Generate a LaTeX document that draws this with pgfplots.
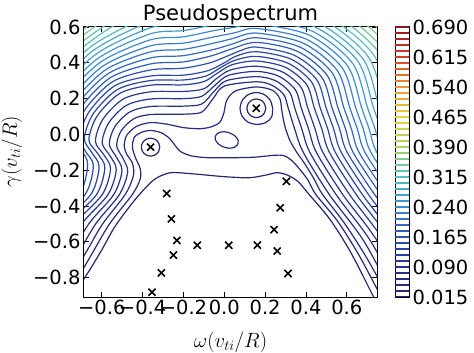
\documentclass[border=0pt]{standalone}
\usepackage{fontspec}
\setmainfont{DejaVu Sans}
\usepackage{pgfplots}
\pgfplotsset{compat=1.18}
\definecolor{K0}{RGB}{38,38,115}
\definecolor{K1}{RGB}{40,50,140}
\definecolor{K2}{RGB}{45,80,175}
\definecolor{K3}{RGB}{60,140,210}
\definecolor{K4}{RGB}{85,192,190}
\definecolor{K5}{RGB}{170,210,100}
\colorlet{L1}{K0}\colorlet{L2}{K1!20!K0}\colorlet{L3}{K1!40!K0}\colorlet{L4}{K1!60!K0}
\colorlet{L5}{K1!80!K0}\colorlet{L6}{K1}\colorlet{L7}{K2!20!K1}\colorlet{L8}{K2!40!K1}
\colorlet{L9}{K2!60!K1}\colorlet{L10}{K2!80!K1}\colorlet{L11}{K2}\colorlet{L12}{K3!20!K2}
\colorlet{L13}{K3!40!K2}\colorlet{L14}{K3!60!K2}\colorlet{L15}{K3!80!K2}\colorlet{L16}{K3}
\colorlet{L17}{K4!20!K3}\colorlet{L18}{K4!40!K3}\colorlet{L19}{K4!60!K3}\colorlet{L20}{K4!80!K3}
\colorlet{L21}{K4}\colorlet{L22}{K5!20!K4}\colorlet{L23}{K5!40!K4}\colorlet{L24}{K5!60!K4}
\colorlet{L25}{K5!80!K4}
\pgfplotsset{colormap={pseudo}{rgb255=(38,38,115) rgb255=(40,50,140) rgb255=(45,80,175) rgb255=(60,140,210) rgb255=(85,192,190) rgb255=(170,210,100) rgb255=(228,212,60) rgb255=(235,150,50) rgb255=(215,60,45) rgb255=(140,25,25)}}
\newcommand{\fsz}{\fontsize{19.5bp}{23bp}\selectfont}
\begin{document}
\begin{tikzpicture}
\useasboundingbox (-84bp,-56bp) rectangle (390bp,297bp);
\begin{axis}[
  at={(0,0)}, anchor=south west,
  width=293bp, height=270bp, scale only axis,
  xmin=-0.687, xmax=0.748, ymin=-0.908, ymax=0.6,
  xtick={-0.6,-0.4,-0.2,0,0.2,0.4,0.6},
  xticklabels={−0.6,−0.4,−0.2,0.0,0.2,0.4,0.6},
  ytick={-0.8,-0.6,-0.4,-0.2,0,0.2,0.4,0.6},
  yticklabels={−0.8,−0.6,−0.4,−0.2,0.0,0.2,0.4,0.6},
  tick align=inside, major tick length=5bp,
  tick label style={font=\fsz},
  every tick/.style={black, line width=0.8bp},
  axis line style={line width=1bp},
  title={Pseudospectrum},
  title style={font=\fontsize{21bp}{25bp}\selectfont, at={(axis description cs:0.5,1)}, anchor=base, yshift=1bp},
  xlabel={$\omega(v_{ti}/R)$},
  xlabel style={font=\fontsize{20bp}{24bp}\selectfont, at={(axis description cs:0.5,0)}, anchor=base, yshift=-50bp},
  ylabel={$\gamma(v_{ti}/R)$},
  ylabel style={font=\fontsize{20bp}{24bp}\selectfont, at={(axis description cs:-0.229,0.538)}, anchor=base},
  clip marker paths=true,
  every axis plot/.append style={line width=1.2bp, smooth},
]
% level 1
\addplot[draw=L1] coordinates {(-0.76,-0.93) (-0.673,-0.782) (-0.60,-0.645) (-0.534,-0.512) (-0.436,-0.363) (-0.354,-0.262) (-0.30,-0.226) (-0.25,-0.213) (-0.135,-0.222) (0.0,-0.236) (0.12,-0.242) (0.2,-0.228) (0.257,-0.214) (0.305,-0.225) (0.36,-0.262) (0.415,-0.335) (0.518,-0.475) (0.62,-0.66) (0.73,-0.905) (0.755,-0.96)};
\addplot[draw=L1] coordinates {(-0.316,-0.071) (-0.322,-0.046) (-0.3385,-0.0277) (-0.361,-0.021) (-0.3835,-0.0277) (-0.400,-0.046) (-0.406,-0.071) (-0.400,-0.096) (-0.3835,-0.1143) (-0.361,-0.121) (-0.3385,-0.1143) (-0.322,-0.096) (-0.316,-0.071)};
\addplot[draw=L1] coordinates {(0.203,0.146) (0.1968,0.172) (0.180,0.191) (0.157,0.198) (0.134,0.191) (0.1172,0.172) (0.111,0.146) (0.1172,0.120) (0.134,0.101) (0.157,0.094) (0.180,0.101) (0.1968,0.120) (0.203,0.146)};
% level 2
\addplot[draw=L2] coordinates {(0.237,0.145) (0.226,0.1895) (0.197,0.222) (0.157,0.234) (0.117,0.222) (0.0877,0.1895) (0.077,0.145) (0.0877,0.1005) (0.117,0.068) (0.16,0.056) (0.203,0.066) (0.232,0.097) (0.237,0.145)};
\addplot[draw=L2] coordinates {(-0.84,-1.04) (-0.665,-0.70) (-0.562,-0.5) (-0.45,-0.335) (-0.412,-0.25) (-0.412,-0.19) (-0.435,-0.13) (-0.45,-0.07) (-0.44,-0.015) (-0.405,0.012) (-0.36,0.022) (-0.31,0.01) (-0.27,-0.02) (-0.245,-0.055) (-0.215,-0.095) (-0.16,-0.12) (-0.08,-0.13) (0.05,-0.13) (0.15,-0.127) (0.24,-0.117) (0.29,-0.118) (0.33,-0.145) (0.37,-0.195) (0.41,-0.255) (0.448,-0.335) (0.552,-0.48) (0.655,-0.665) (0.765,-0.90) (0.79,-0.96)};
% level 3
\addplot[draw=L3] coordinates {(0.066,-0.056) (0.068,-0.034) (0.055,-0.011) (0.030,0.007) (0.0,0.015) (-0.026,0.010) (-0.042,-0.006) (-0.044,-0.028) (-0.031,-0.051) (-0.006,-0.069) (0.024,-0.077) (0.050,-0.072) (0.066,-0.056)};
\addplot[draw=L3] coordinates {(-0.88,-1.05) (-0.678,-0.66) (-0.596,-0.5) (-0.485,-0.335) (-0.445,-0.23) (-0.45,-0.16) (-0.478,-0.11) (-0.49,-0.065) (-0.478,-0.005) (-0.43,0.045) (-0.36,0.066) (-0.28,0.057) (-0.2,0.038) (-0.12,0.032) (-0.065,0.042) (-0.022,0.068) (-0.002,0.12) (0.012,0.19) (0.055,0.243) (0.157,0.265) (0.235,0.247) (0.272,0.2) (0.283,0.125) (0.297,0.045) (0.322,-0.035) (0.355,-0.1) (0.395,-0.165) (0.44,-0.25) (0.481,-0.335) (0.585,-0.49) (0.69,-0.675) (0.80,-0.90) (0.825,-0.97)};
% level 4
\addplot[draw=L4] coordinates {(-0.893,-1.0) (-0.733,-0.7) (-0.63,-0.5) (-0.513,-0.335) (-0.473,-0.209) (-0.495,-0.136) (-0.527,-0.063) (-0.505,0.020) (-0.444,0.087) (-0.361,0.111) (-0.2,0.113) (-0.11,0.125) (-0.055,0.20) (0.0,0.27) (0.157,0.294) (0.235,0.274) (0.292,0.221) (0.313,0.148) (0.345,0.03) (0.387,-0.1) (0.514,-0.335) (0.686,-0.6) (0.854,-0.96)};
% level 5
\addplot[draw=L5] coordinates {(-0.927,-1.0) (-0.767,-0.7) (-0.664,-0.5) (-0.541,-0.335) (-0.501,-0.203) (-0.527,-0.129) (-0.563,-0.055) (-0.536,0.043) (-0.462,0.126) (-0.361,0.156) (-0.2,0.158) (-0.11,0.17) (-0.05,0.24) (0.01,0.30) (0.157,0.323) (0.251,0.300) (0.320,0.236) (0.345,0.148) (0.38,0.03) (0.419,-0.1) (0.547,-0.335) (0.719,-0.6) (0.887,-0.96)};
% level 6
\addplot[draw=L6] coordinates {(-0.961,-1.0) (-0.801,-0.7) (-0.698,-0.5) (-0.569,-0.335) (-0.529,-0.197) (-0.558,-0.122) (-0.598,-0.047) (-0.566,0.064) (-0.480,0.162) (-0.361,0.198) (-0.2,0.2) (-0.11,0.213) (-0.045,0.275) (0.02,0.33) (0.157,0.352) (0.267,0.325) (0.348,0.250) (0.377,0.148) (0.413,0.03) (0.451,-0.1) (0.58,-0.335) (0.752,-0.6) (0.92,-0.96)};
% level 7
\addplot[draw=L7] coordinates {(-0.995,-1.0) (-0.835,-0.7) (-0.732,-0.5) (-0.597,-0.335) (-0.557,-0.191) (-0.589,-0.115) (-0.631,-0.039) (-0.595,0.084) (-0.496,0.197) (-0.361,0.238) (-0.2,0.24) (-0.1,0.255) (-0.04,0.31) (0.03,0.36) (0.157,0.381) (0.283,0.350) (0.375,0.265) (0.409,0.148) (0.445,0.03) (0.483,-0.1) (0.613,-0.335) (0.785,-0.6) (0.953,-0.96)};
% level 8
\addplot[draw=L8] coordinates {(-1.029,-1.0) (-0.869,-0.7) (-0.766,-0.5) (-0.625,-0.335) (-0.585,-0.185) (-0.619,-0.108) (-0.663,-0.031) (-0.623,0.102) (-0.512,0.229) (-0.361,0.275) (-0.2,0.277) (-0.1,0.295) (-0.03,0.345) (0.04,0.39) (0.157,0.41) (0.299,0.375) (0.403,0.279) (0.441,0.148) (0.478,0.03) (0.515,-0.1) (0.646,-0.335) (0.818,-0.6) (0.986,-0.96)};
% level 9
\addplot[draw=L9] coordinates {(-1.063,-1.0) (-0.903,-0.7) (-0.80,-0.5) (-0.653,-0.335) (-0.613,-0.179) (-0.649,-0.101) (-0.6855,-0.023) (-0.642,0.115) (-0.523,0.251) (-0.361,0.301) (-0.2,0.304) (-0.09,0.326) (-0.02,0.372) (0.05,0.413) (0.157,0.436) (0.3135,0.3974) (0.428,0.292) (0.47,0.148) (0.507,0.03) (0.544,-0.1) (0.676,-0.335) (0.848,-0.6) (1.016,-0.96)};
% level 10
\addplot[draw=L10] coordinates {(-1.097,-1.0) (-0.937,-0.7) (-0.834,-0.5) (-0.681,-0.335) (-0.641,-0.173) (-0.68,-0.094) (-0.708,-0.015) (-0.6615,0.1277) (-0.5345,0.2731) (-0.361,0.3264) (-0.2,0.331) (-0.08,0.356) (0.0,0.40) (0.06,0.438) (0.157,0.462) (0.328,0.420) (0.4532,0.305) (0.499,0.148) (0.536,0.03) (0.573,-0.1) (0.706,-0.335) (0.878,-0.6) (1.046,-0.96)};
% level 11
\addplot[draw=L11] coordinates {(-1.131,-1.0) (-0.971,-0.7) (-0.868,-0.5) (-0.709,-0.335) (-0.669,-0.167) (-0.70,-0.087) (-0.7305,-0.007) (-0.681,0.1406) (-0.5458,0.2954) (-0.361,0.3601) (-0.2,0.37) (-0.07,0.40) (0.02,0.44) (0.08,0.468) (0.157,0.488) (0.3425,0.4424) (0.4783,0.318) (0.528,0.148) (0.565,0.03) (0.602,-0.1) (0.736,-0.335) (0.908,-0.6) (1.076,-0.96)};
% level 12
\addplot[draw=L12] coordinates {(-1.165,-1.0) (-1.0,-0.7) (-0.902,-0.5) (-0.737,-0.335) (-0.697,-0.161) (-0.73,-0.08) (-0.753,0.001) (-0.7005,0.1534) (-0.557,0.3177) (-0.361,0.3938) (-0.2,0.405) (-0.06,0.44) (0.03,0.475) (0.157,0.514) (0.357,0.465) (0.5034,0.331) (0.557,0.148) (0.594,0.03) (0.631,-0.1) (0.766,-0.335) (0.938,-0.6)};
% level 13
\addplot[draw=L13] coordinates {(-0.765,-0.335) (-0.725,-0.155) (-0.755,-0.073) (-0.7755,0.009) (-0.72,0.1663) (-0.5683,0.3399) (-0.361,0.4275) (-0.2,0.44) (-0.05,0.475) (0.04,0.505) (0.157,0.54) (0.3715,0.4875) (0.5285,0.344) (0.586,0.148) (0.623,0.03) (0.66,-0.1) (0.796,-0.335) (0.968,-0.6)};
% level 14
\addplot[draw=L14] coordinates {(-0.793,-0.335) (-0.753,-0.149) (-0.78,-0.066) (-0.798,0.017) (-0.7394,0.1791) (-0.5795,0.3622) (-0.361,0.4612) (-0.2,0.475) (-0.05,0.51) (0.04,0.535) (0.157,0.566) (0.386,0.510) (0.5536,0.357) (0.615,0.148) (0.652,0.03) (0.689,-0.1) (0.826,-0.335) (0.998,-0.6)};
% level 15
\addplot[draw=L15] coordinates {(-0.821,-0.335) (-0.781,-0.143) (-0.805,-0.06) (-0.8205,0.025) (-0.7589,0.192) (-0.5908,0.3844) (-0.361,0.4949) (-0.2,0.51) (-0.05,0.545) (0.05,0.567) (0.157,0.592) (0.4005,0.5325) (0.5787,0.370) (0.644,0.148) (0.681,0.03) (0.718,-0.1) (0.856,-0.335) (1.03,-0.6)};
% level 16
\addplot[draw=L16] coordinates {(-0.849,-0.335) (-0.809,-0.137) (-0.83,-0.05) (-0.843,0.033) (-0.7784,0.2048) (-0.602,0.4067) (-0.361,0.5286) (-0.2,0.545) (-0.05,0.58) (0.05,0.598) (0.157,0.618) (0.415,0.555) (0.6039,0.383) (0.673,0.148) (0.71,0.03) (0.747,-0.1) (0.886,-0.335)};
% level 17
\addplot[draw=L17] coordinates {(-0.877,-0.335) (-0.837,-0.131) (-0.855,-0.04) (-0.8655,0.041) (-0.7979,0.2177) (-0.6133,0.4289) (-0.361,0.5623) (-0.2,0.58) (-0.05,0.613) (0.05,0.628) (0.157,0.644) (0.4295,0.5775) (0.629,0.396) (0.702,0.148) (0.739,0.03) (0.776,-0.1) (0.916,-0.335)};
% level 18
\addplot[draw=L18] coordinates {(-0.88,-0.15) (-0.888,0.049) (-0.8174,0.2305) (-0.6245,0.4512) (-0.361,0.596) (-0.2,0.614) (-0.05,0.645) (0.157,0.67) (0.444,0.600) (0.6541,0.409) (0.731,0.148) (0.768,0.03) (0.805,-0.1) (0.946,-0.335)};
% level 19
\addplot[draw=L19] coordinates {(-0.90,-0.15) (-0.9105,0.057) (-0.8369,0.2434) (-0.6358,0.4735) (-0.361,0.6297) (-0.2,0.648) (-0.05,0.675) (0.157,0.696) (0.4585,0.6226) (0.6792,0.422) (0.76,0.148) (0.834,-0.1)};
% level 20
\addplot[draw=L20] coordinates {(-0.933,0.065) (-0.8564,0.2562) (-0.647,0.4957) (-0.361,0.6634) (-0.2,0.68) (0.157,0.722) (0.473,0.6451) (0.7043,0.435) (0.789,0.148) (0.863,-0.1)};
% level 21
\addplot[draw=L21] coordinates {(-0.9555,0.073) (-0.8758,0.269) (-0.6583,0.518) (-0.361,0.6971) (0.157,0.748) (0.4875,0.6676) (0.7294,0.448) (0.818,0.148) (0.892,-0.1)};
% level 22
\addplot[draw=L22] coordinates {(-0.978,0.081) (-0.8953,0.2819) (-0.6695,0.5402) (-0.361,0.7308) (0.157,0.774) (0.502,0.6901) (0.7545,0.461) (0.847,0.148)};
% level 23
\addplot[draw=L23] coordinates {(-0.9148,0.2948) (-0.6808,0.5625) (-0.361,0.7645) (0.157,0.80) (0.5165,0.7126) (0.7797,0.474) (0.876,0.148)};
% level 24
\addplot[draw=L24] coordinates {(-0.9343,0.3076) (-0.692,0.5847) (-0.361,0.7982) (0.157,0.826) (0.531,0.7351) (0.8048,0.487) (0.905,0.148)};
% level 25
\addplot[draw=L25] coordinates {(-0.9538,0.3205) (-0.7033,0.607) (-0.361,0.8319) (0.157,0.852) (0.5455,0.7577) (0.8299,0.500) (0.934,0.148)};
% eigenvalues
\addplot[sharp plot, only marks, mark=x, mark size=5bp, black, mark options={line width=1.6bp}] coordinates {
(-0.361,-0.071) (0.157,0.146) (-0.282,-0.330) (-0.259,-0.472) (-0.232,-0.592) (-0.249,-0.674) (-0.308,-0.773) (-0.354,-0.881) (-0.132,-0.619) (0.022,-0.619) (0.162,-0.618) (0.259,-0.651) (0.244,-0.532) (0.274,-0.410) (0.304,-0.262) (0.312,-0.777) (0.352,-0.93)};
\end{axis}
\begin{axis}[
  at={(311bp,0)}, anchor=south west,
  width=14bp, height=270bp, scale only axis,
  xmin=0, xmax=1, ymin=0.015, ymax=0.69,
  xtick=\empty,
  ytick={0.015,0.09,0.165,0.24,0.315,0.39,0.465,0.54,0.615,0.69},
  yticklabels={0.015,0.090,0.165,0.240,0.315,0.390,0.465,0.540,0.615,0.690},
  ytick pos=right, yticklabel pos=right,
  tick align=inside, major tick length=4bp,
  tick label style={font=\fsz},
  every tick/.style={black, line width=0.8bp},
  axis line style={line width=1bp},
  colormap name=pseudo, point meta min=0.015, point meta max=0.69,
]
\pgfplotsinvokeforeach{0.015,0.030,0.045,0.060,0.075,0.090,0.105,0.120,0.135,0.150,0.165,0.180,0.195,0.210,0.225,0.240,0.255,0.270,0.285,0.300,0.315,0.330,0.345,0.360,0.375,0.390,0.405,0.420,0.435,0.450,0.465,0.480,0.495,0.510,0.525,0.540,0.555,0.570,0.585,0.600,0.615,0.630,0.645,0.660,0.675,0.690}{
  \addplot[mesh, point meta=explicit, line width=1.2bp, forget plot] coordinates {(0,#1) [#1] (1,#1) [#1]};
}
\end{axis}
\end{tikzpicture}
\end{document}
